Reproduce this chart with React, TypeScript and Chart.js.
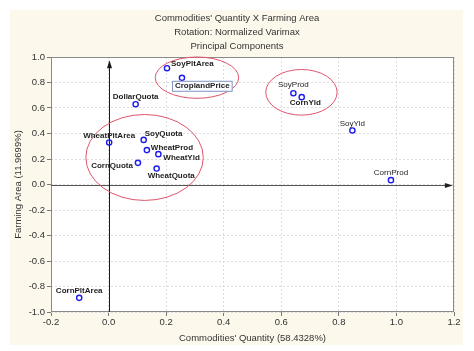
import { useEffect, useRef } from "react";
import { Chart, registerables } from "chart.js";

Chart.register(...registerables);

// ---- data ----
const variableNames = [
  "SoyPltArea", "CroplandPrice", "DollarQuota", "WheatPltArea", "SoyQuota",
  "WheatProd", "WheatYld", "CornQuota", "WheatQuota", "SoyProd",
  "CornYld", "SoyYld", "CornProd", "CornPltArea",
];
const quantityLoadings = [0.203, 0.255, 0.094, 0.002, 0.122, 0.133, 0.173, 0.102, 0.167, 0.642, 0.671, 0.847, 0.981, -0.102];
const areaLoadings = [0.912, 0.837, 0.630, 0.330, 0.350, 0.270, 0.238, 0.170, 0.125, 0.716, 0.685, 0.424, 0.034, -0.889];

const xTickValues = [-0.2, 0.0, 0.2, 0.4, 0.6, 0.8, 1.0, 1.2];
const yTickValues = [-1.0, -0.8, -0.6, -0.4, -0.2, 0.0, 0.2, 0.4, 0.6, 0.8, 1.0];

// group ellipses (data units): centre x, centre y, radius x, radius y
const ellipseCx = [0.307, 0.125, 0.670];
const ellipseCy = [0.838, 0.212, 0.723];
const ellipseRx = [0.145, 0.204, 0.124];
const ellipseRy = [0.162, 0.337, 0.179];

const titleLines = ["Commodities' Quantity X Farming Area", "Rotation: Normalized Varimax", "Principal Components"];
const xTitle = "Commodities' Quantity (58.4328%)";
const yTitle = "Farming Area (11.9699%)";

// label placement styling (pixel offsets from each point)
type LabelStyle = { dx: number; dy: number; align: CanvasTextAlign; bold: boolean; boxed?: boolean };
const labelStyles: LabelStyle[] = [
  { dx: 4, dy: -4, align: "left", bold: true },
  { dx: -7, dy: 8.5, align: "left", bold: true, boxed: true },
  { dx: 0, dy: -7, align: "center", bold: true },
  { dx: 0, dy: -7, align: "center", bold: true },
  { dx: 1, dy: -6, align: "left", bold: true },
  { dx: 4, dy: -2, align: "left", bold: true },
  { dx: 5, dy: 4, align: "left", bold: true },
  { dx: -5, dy: 3, align: "right", bold: true },
  { dx: -9, dy: 7, align: "left", bold: true },
  { dx: 0, dy: -8, align: "center", bold: false },
  { dx: -12, dy: 6, align: "left", bold: true },
  { dx: 0, dy: -7, align: "center", bold: false },
  { dx: 0, dy: -7, align: "center", bold: false },
  { dx: 0, dy: -7.5, align: "center", bold: true },
];

const FONT = '"Liberation Sans", Arial, sans-serif';

const overlayPlugin = {
  id: "overlay",
  beforeDraw(chart: any) {
    const { ctx, chartArea: a } = chart;
    ctx.save();
    ctx.fillStyle = "#ffffff";
    ctx.fillRect(a.left, a.top, a.right - a.left, a.bottom - a.top);
    ctx.restore();
  },
  beforeDatasetsDraw(chart: any) {
    const { ctx, chartArea: a, scales } = chart;
    const xs = scales.x;
    const ys = scales.y;
    ctx.save();
    // border
    ctx.strokeStyle = "#8a8a8a";
    ctx.lineWidth = 1;
    ctx.strokeRect(a.left + 0.5, a.top + 0.5, a.right - a.left - 1, a.bottom - a.top - 1);

    // horizontal zero axis with arrow
    const y0 = Math.round(ys.getPixelForValue(0)) + 0.5;
    const xTip = xs.getPixelForValue(1.196);
    ctx.strokeStyle = "#555555";
    ctx.beginPath();
    ctx.moveTo(a.left, y0);
    ctx.lineTo(xTip - 4, y0);
    ctx.stroke();
    ctx.fillStyle = "#222222";
    ctx.beginPath();
    ctx.moveTo(xTip, y0);
    ctx.lineTo(xTip - 8, y0 - 2.5);
    ctx.lineTo(xTip - 8, y0 + 2.5);
    ctx.closePath();
    ctx.fill();

    // vertical zero axis with arrow
    const x0 = Math.round(xs.getPixelForValue(0)) + 0.5;
    const yTip = ys.getPixelForValue(0.975);
    ctx.strokeStyle = "#1a1a1a";
    ctx.beginPath();
    ctx.moveTo(x0, a.bottom);
    ctx.lineTo(x0, yTip + 4);
    ctx.stroke();
    ctx.fillStyle = "#1a1a1a";
    ctx.beginPath();
    ctx.moveTo(x0, yTip);
    ctx.lineTo(x0 - 2.5, yTip + 8);
    ctx.lineTo(x0 + 2.5, yTip + 8);
    ctx.closePath();
    ctx.fill();

    // ellipses
    ctx.strokeStyle = "#e0556b";
    ctx.lineWidth = 1;
    for (let i = 0; i < ellipseCx.length; i++) {
      const cx = xs.getPixelForValue(ellipseCx[i]);
      const cy = ys.getPixelForValue(ellipseCy[i]);
      const rx = Math.abs(xs.getPixelForValue(ellipseCx[i] + ellipseRx[i]) - cx);
      const ry = Math.abs(ys.getPixelForValue(ellipseCy[i] + ellipseRy[i]) - cy);
      ctx.beginPath();
      ctx.ellipse(cx, cy, rx, ry, 0, 0, Math.PI * 2);
      ctx.stroke();
    }
    ctx.restore();
  },
  afterDatasetsDraw(chart: any) {
    const { ctx } = chart;
    const meta = chart.getDatasetMeta(0);
    ctx.save();
    ctx.textBaseline = "middle";
    meta.data.forEach((pt: any, i: number) => {
      const s = labelStyles[i];
      const tx = pt.x + s.dx;
      const ty = pt.y + s.dy;
      ctx.font = `${s.bold ? "bold " : ""}8px ${FONT}`;
      if (s.boxed) {
        const w = ctx.measureText(variableNames[i]).width;
        ctx.fillStyle = "#fbfcff";
        ctx.fillRect(tx - 2.5, ty - 5, w + 5, 10);
        ctx.strokeStyle = "#8196c4";
        ctx.lineWidth = 1;
        ctx.strokeRect(tx - 2.5, ty - 5, w + 5, 10);
      }
      ctx.fillStyle = "#1e1e1e";
      ctx.textAlign = s.align;
      ctx.fillText(variableNames[i], tx, ty);
    });
    ctx.restore();
  },
  afterDraw(chart: any) {
    const { ctx } = chart;
    ctx.save();
    ctx.fillStyle = "#333333";
    ctx.font = `9.5px ${FONT}`;
    ctx.textAlign = "center";
    ctx.textBaseline = "middle";
    titleLines.forEach((line, i) => {
      ctx.fillText(line, 237, 18.5 + i * 13.7);
    });
    ctx.restore();
  },
};

export default function App() {
  const canvasRef = useRef<HTMLCanvasElement | null>(null);

  useEffect(() => {
    if (!canvasRef.current) return;
    const points = quantityLoadings.map((x, i) => ({ x, y: areaLoadings[i] }));
    const tickFont = { family: FONT, size: 9.5 };
    const chart = new Chart(canvasRef.current, {
      type: "scatter",
      data: {
        datasets: [
          {
            data: points,
            pointStyle: "circle",
            pointRadius: 2.6,
            pointBorderWidth: 1.4,
            pointBorderColor: "#1c1cf0",
            pointBackgroundColor: "rgba(255,255,255,0)",
          } as any,
        ],
      },
      options: {
        animation: false,
        responsive: false,
        devicePixelRatio: 1,
        layout: { padding: { left: 0, top: 57, right: 20, bottom: 0 } },
        plugins: { legend: { display: false }, tooltip: { enabled: false }, title: { display: false } },
        scales: {
          x: {
            type: "linear",
            min: -0.2,
            max: 1.2,
            afterBuildTicks: (s: any) => { s.ticks = xTickValues.map((v) => ({ value: v })); },
            afterFit: (s: any) => { s.height = 39; },
            ticks: {
              callback: (v: any) => Number(v).toFixed(1),
              color: "#333333",
              font: tickFont,
              padding: 1,
              maxRotation: 0,
              autoSkip: false,
            },
            grid: { color: "#dcdcdc", lineWidth: 1, tickLength: 4, tickColor: "#777777", drawTicks: true },
            border: { display: false, dash: [2, 2] },
            title: { display: true, text: xTitle, color: "#333333", font: tickFont, padding: { top: 0, bottom: 7 } },
          },
          y: {
            type: "linear",
            min: -1,
            max: 1,
            afterBuildTicks: (s: any) => { s.ticks = yTickValues.map((v) => ({ value: v })); },
            afterFit: (s: any) => { s.width = 51; },
            ticks: {
              callback: (v: any) => Number(v).toFixed(1),
              color: "#333333",
              font: tickFont,
              padding: 2,
              autoSkip: false,
            },
            grid: { color: "#dcdcdc", lineWidth: 1, tickLength: 4, tickColor: "#777777", drawTicks: true },
            border: { display: false, dash: [2, 2] },
            title: { display: true, text: yTitle, color: "#333333", font: tickFont, padding: { top: 13, bottom: 0 } },
          },
        },
      },
      plugins: [overlayPlugin],
    } as any);
    return () => chart.destroy();
  }, []);

  return (
    <div style={{ position: "fixed", left: 0, top: 0, width: 474, height: 351, background: "#ffffff", overflow: "hidden" }}>
      <div style={{ position: "absolute", left: 10, top: 10, width: 453, height: 335, background: "#fdf8ec" }} />
      <canvas
        ref={canvasRef}
        width={474}
        height={351}
        style={{ position: "absolute", left: 0, top: 0, width: 474, height: 351 }}
      />
    </div>
  );
}
